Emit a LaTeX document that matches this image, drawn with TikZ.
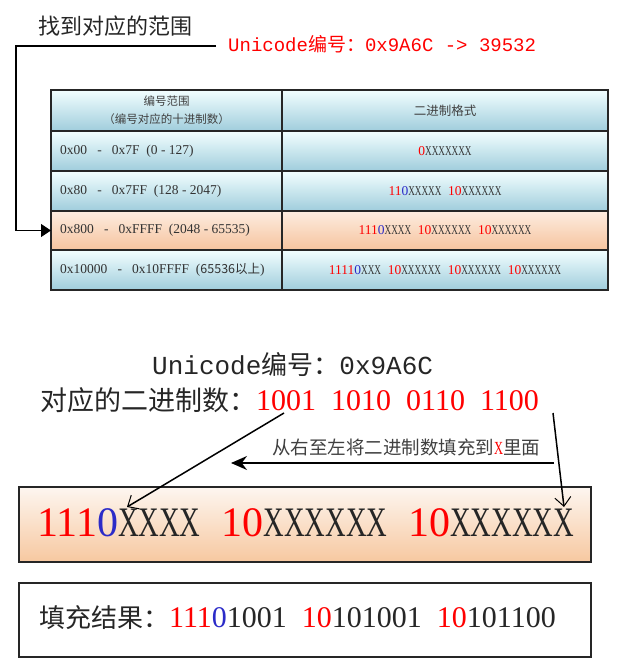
\documentclass[tikz,border=0pt]{standalone}
\usepackage{fontspec}
\usepackage{graphicx}
\setmainfont{Liberation Serif}
\newfontfamily\cjk{Noto Sans CJK SC}
\newfontfamily\mono{Liberation Mono}
\usetikzlibrary{arrows.meta}
\definecolor{rd}{HTML}{FF0000}
\definecolor{bl}{HTML}{2B2BC8}
\newcommand\XX{\scalebox{0.68}[1]{X}}
\newcommand\R[1]{\textcolor{rd}{#1}}
\newcommand\B[1]{\textcolor{bl}{#1}}
\begin{document}
\begin{tikzpicture}[x=1pt,y=-1pt,
  cellb/.style={draw=black!85,line width=1.3pt,inner sep=0,outer sep=0,anchor=north west,top color=blue!3!cyan!5,bottom color={rgb,255:red,160;green,205;blue,220}},
  cello/.style={cellb,top color={rgb,255:red,253;green,236;blue,224},bottom color={rgb,255:red,246;green,196;blue,158}},
  ltxt/.style={anchor=west,font=\fontsize{13.5}{14}\selectfont,text=black!80,inner sep=0},
  rtxt/.style={anchor=center,font=\fontsize{13.5}{14}\selectfont,text=black!80,inner sep=0},
  barb/.style={-{Straight Barb[length=9pt,width=16pt,line width=1pt]},line width=1.5pt}]
\useasboundingbox (0,0) rectangle (621,663);
\node[anchor=west,inner sep=0,font=\cjk\fontsize{22}{22}\selectfont,text=black!85] (t1) at (38,26) {找到对应的范围};
\node[anchor=west,inner sep=0,font=\mono\fontsize{19}{19}\selectfont,text=rd] (t2) at (228,44) {Unicode{\cjk 编号：}0x9A6C -> 39532};
% table
\node[cellb,minimum width=231pt,minimum height=41pt] (h1) at (51,90) {};
\node[cellb,minimum width=326pt,minimum height=41pt] (h2) at (282,90) {};
\node[cellb,minimum width=231pt,minimum height=40pt] (a1) at (51,131) {};
\node[cellb,minimum width=326pt,minimum height=40pt] (a2) at (282,131) {};
\node[cellb,minimum width=231pt,minimum height=40pt] (b1) at (51,171) {};
\node[cellb,minimum width=326pt,minimum height=40pt] (b2) at (282,171) {};
\node[cello,minimum width=231pt,minimum height=39pt] (c1) at (51,211) {};
\node[cello,minimum width=326pt,minimum height=39pt] (c2) at (282,211) {};
\node[cellb,minimum width=231pt,minimum height=40pt] (d1) at (51,250) {};
\node[cellb,minimum width=326pt,minimum height=40pt] (d2) at (282,250) {};
\node[align=center,inner sep=0,font=\cjk\fontsize{11.5}{18}\selectfont,text=black!75] (h1t) at (h1.center) {编号范围\\（编号对应的十进制数）};
\node[inner sep=0,font=\cjk\fontsize{12.5}{12}\selectfont,text=black!75] (h2t) at (h2.center) {二进制格式};
\node[ltxt] (a1t) at ([xshift=9pt]a1.west) {0x00\ \ \ -\ \ \ 0x7F\ \ (0 - 127)};
\node[ltxt] (b1t) at ([xshift=9pt]b1.west) {0x80\ \ \ -\ \ \ 0x7FF\ \ (128 - 2047)};
\node[ltxt] (c1t) at ([xshift=9pt]c1.west) {0x800\ \ \ -\ \ \ 0xFFFF\ \ (2048 - 65535)};
\node[ltxt] (d1t) at ([xshift=9pt]d1.west) {0x10000\ \ \ -\ \ \ 0x10FFFF\ \ ({\cjk\fontsize{12.5}{12}\selectfont 65536以上})};
\node[rtxt] (a2t) at (a2.center) {\R{0}\XX\XX\XX\XX\XX\XX\XX};
\node[rtxt] (b2t) at (b2.center) {\R{11}\B{0}\XX\XX\XX\XX\XX\ \ \R{10}\XX\XX\XX\XX\XX\XX};
\node[rtxt] (c2t) at (c2.center) {\R{111}\B{0}\XX\XX\XX\XX\ \ \R{10}\XX\XX\XX\XX\XX\XX\ \ \R{10}\XX\XX\XX\XX\XX\XX};
\node[rtxt] (d2t) at (d2.center) {\R{1111}\B{0}\XX\XX\XX\ \ \R{10}\XX\XX\XX\XX\XX\XX\ \ \R{10}\XX\XX\XX\XX\XX\XX\ \ \R{10}\XX\XX\XX\XX\XX\XX};
\coordinate (k0) at (216,46);
\draw[line width=1.3pt,-{Triangle[length=10pt,width=13pt]}] (k0) -- (16,46) |- (c1.west);
% lower part
\node[anchor=west,inner sep=0,font=\mono\fontsize{26}{26}\selectfont,text=black!85] (u1) at (152,365) {Unicode{\cjk 编号：}0x9A6C};
\node[anchor=west,inner sep=0,font=\fontsize{30}{30}\selectfont,text=black!85] (u2) at (40,400) {{\cjk\fontsize{27}{27}\selectfont 对应的二进制数：}\R{1001\ \ 1010\ \ 0110\ \ 1100}};
\coordinate (s1) at (284,413);
\coordinate (s2) at (553,413);
\coordinate (s3) at (554,463);
\coordinate (s4) at (231,463);
\node[anchor=west,inner sep=0,font=\cjk\fontsize{18.5}{18.5}\selectfont,text=black!75] (lab) at (272,447) {从右至左将二进制数填充到{\rmfamily\R{\XX}}里面};
\draw[line width=1.5pt,-{Stealth[length=16pt,width=14pt]}] (s3) -- (s4);
\node[cello,draw=black!85,minimum width=572pt,minimum height=75pt,top color={rgb,255:red,253;green,246;blue,240},bottom color={rgb,255:red,247;green,200;blue,160}] (ob) at (19,487) {};
\node[anchor=west,inner sep=0,font=\fontsize{42}{42}\selectfont,text=black!85] (obt) at (37,523) {\R{111}\B{0}\XX\XX\XX\XX\ \ \R{10}\XX\XX\XX\XX\XX\XX\ \ \R{10}\XX\XX\XX\XX\XX\XX};
\coordinate (e1) at (127,507);
\coordinate (e2) at (564,507);
\draw[barb] (s1) -- (e1);
\draw[barb] (s2) -- (e2);
\node[draw=black!85,line width=1.3pt,anchor=north west,minimum width=572pt,minimum height=74pt,inner sep=0,outer sep=0] (rb) at (19,583) {};
\node[anchor=west,inner sep=0,font=\fontsize{30}{30}\selectfont,text=black!85] (rbt) at (39,618) {{\cjk\fontsize{26}{26}\selectfont 填充结果：}\R{111}\B{0}1001\ \ \R{10}101001\ \ \R{10}101100};
\end{tikzpicture}
\end{document}
